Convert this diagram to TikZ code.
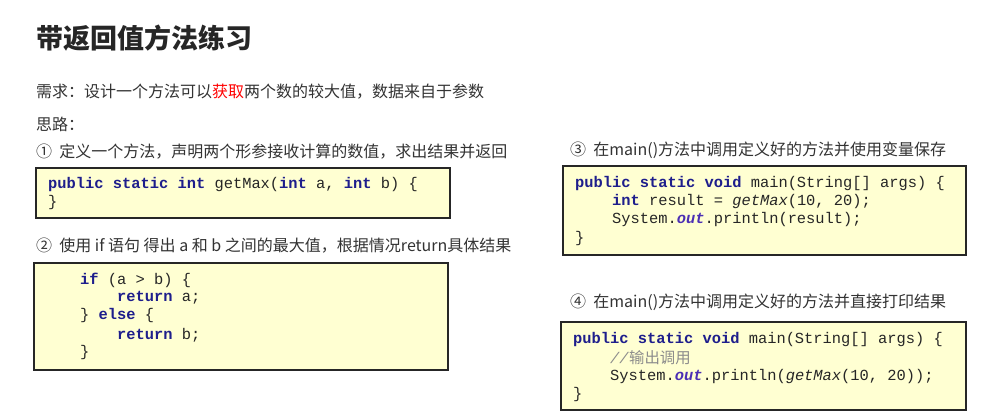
\documentclass[tikz,border=0pt]{standalone}
\usepackage{fontspec}
\setmainfont{Noto Sans CJK SC}
\setmonofont{Liberation Mono}
\newfontfamily\cjk{Noto Sans CJK SC}
\definecolor{kw}{HTML}{1E1E8C}
\definecolor{boxfill}{HTML}{FFFFD2}
\definecolor{outc}{HTML}{4B2FB4}
\begin{document}
\begin{tikzpicture}[x=1pt,y=-1pt,
  cbox/.style={draw=black!85,line width=1.6pt,fill=boxfill},
  txt/.style={anchor=west,inner sep=0pt,font=\fontsize{16}{18}\selectfont,text=black!80},
  code/.style={anchor=west,inner sep=0pt,font=\ttfamily\fontsize{15.4}{17}\selectfont,text=black!85}]
\newcommand\kw[1]{\textbf{\textcolor{kw}{#1}}}
\useasboundingbox (0,0) rectangle (995,419);
\fill[white] (0,0) rectangle (995,419);
\node[txt,font=\bfseries\fontsize{27}{29}\selectfont,text=black!85] (title) at (36,38) {带返回值方法练习};
\node[txt] (req) at (36,92) {需求：设计一个方法可以\textcolor{red}{获取}两个数的较大值，数据来自于参数};
\node[txt] (idea) at (36,124) {思路：};
\node[txt] (s1) at (36,152) {①\ \ 定义一个方法，声明两个形参接收计算的数值，求出结果并返回};
\node[txt] (s2) at (36,246) {②\ \ 使用 if 语句 得出 a 和 b 之间的最大值，根据情况return具体结果};
\node[txt] (s3) at (570,150) {③\ \ 在main()方法中调用定义好的方法并使用变量保存};
\node[txt] (s4) at (570,302) {④\ \ 在main()方法中调用定义好的方法并直接打印结果};
\draw[cbox] (36,168) rectangle (450,218);
\draw[cbox] (34,263) rectangle (448,370);
\draw[cbox] (563,166) rectangle (966,255);
\draw[cbox] (561,322) rectangle (966,410);
\node[code] (b1a) at (48,185) {\kw{public} \kw{static} \kw{int} getMax(\kw{int} a, \kw{int} b) \{};
\node[code] (b1b) at (48,203) {\}};
\node[code] (b2a) at (80,280) {\kw{if} (a > b) \{};
\node[code] (b2b) at (80,298) {\ \ \ \ \kw{return} a;};
\node[code] (b2c) at (80,316) {\} \kw{else} \{};
\node[code] (b2d) at (80,335) {\ \ \ \ \kw{return} b;};
\node[code] (b2e) at (80,353) {\}};
\node[code] (b3a) at (575,184) {\kw{public} \kw{static} \kw{void} main(String[] args) \{};
\node[code] (b3b) at (575,202) {\ \ \ \ \kw{int} result = \textit{getMax}(10, 20);};
\node[code] (b3c) at (575,220) {\ \ \ \ System.\textbf{\textit{\textcolor{outc}{out}}}.println(result);};
\node[code] (b3d) at (575,239) {\}};
\node[code] (b4a) at (573,340) {\kw{public} \kw{static} \kw{void} main(String[] args) \{};
\node[code,text=black!45] (b4b) at (573,358) {\ \ \ \ \textit{//}{\cjk\itshape 输出调用}};
\node[code] (b4c) at (573,377) {\ \ \ \ System.\textbf{\textit{\textcolor{outc}{out}}}.println(\textit{getMax}(10, 20));};
\node[code] (b4d) at (573,395) {\}};
\end{tikzpicture}
\end{document}
